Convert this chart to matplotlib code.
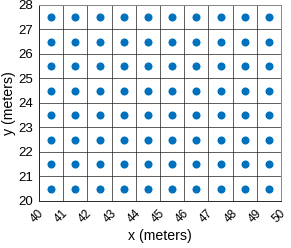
import matplotlib
matplotlib.use("Agg")
import matplotlib.pyplot as plt
import matplotlib.transforms as mtransforms
import numpy as np

plt.rcParams['font.family'] = ['Liberation Sans', 'DejaVu Sans']

x_centers = [40.5, 41.5, 42.5, 43.5, 44.5, 45.5, 46.5, 47.5, 48.5, 49.5]
y_centers = [20.5, 21.5, 22.5, 23.5, 24.5, 25.5, 26.5, 27.5]
x_ticks = [40, 41, 42, 43, 44, 45, 46, 47, 48, 49, 50]
y_ticks = [20, 21, 22, 23, 24, 25, 26, 27, 28]

fig = plt.figure(figsize=(2.91, 2.48), dpi=100)
ax = fig.add_axes([0.134, 0.19, 0.832, 0.79])

X, Y = np.meshgrid(x_centers, y_centers)
ax.plot(X.ravel(), Y.ravel(), 'o', color='#0072BD', markersize=5.8,
        markeredgewidth=0, zorder=3)

ax.set_xlim(40, 50)
ax.set_ylim(20, 28)
ax.set_xticks(x_ticks)
ax.set_yticks(y_ticks)
ax.set_xticklabels([str(t) for t in x_ticks], rotation=45, ha='right',
                   rotation_mode='anchor', fontsize=8.5)
ax.set_yticklabels([str(t) for t in y_ticks], fontsize=9.5)
ax.tick_params(axis='x', length=0, pad=4.5)
ax.tick_params(axis='y', length=0, pad=4)
offset = mtransforms.ScaledTranslation(-1.0 / 72, 0, fig.dpi_scale_trans)
for lab in ax.get_xticklabels():
    lab.set_transform(lab.get_transform() + offset)
ax.grid(True, color='#222222', linewidth=0.6, alpha=0.85)
for s in ['left', 'bottom']:
    ax.spines[s].set_color('#262626')
    ax.spines[s].set_linewidth(0.7)
for s in ['top', 'right']:
    ax.spines[s].set_color('#888888')
    ax.spines[s].set_linewidth(0.7)
ax.set_xlabel('x (meters)', fontsize=10.2, labelpad=3)
ax.set_ylabel('y (meters)', fontsize=10.2, labelpad=2)

fig.savefig('out.png', dpi=100)
